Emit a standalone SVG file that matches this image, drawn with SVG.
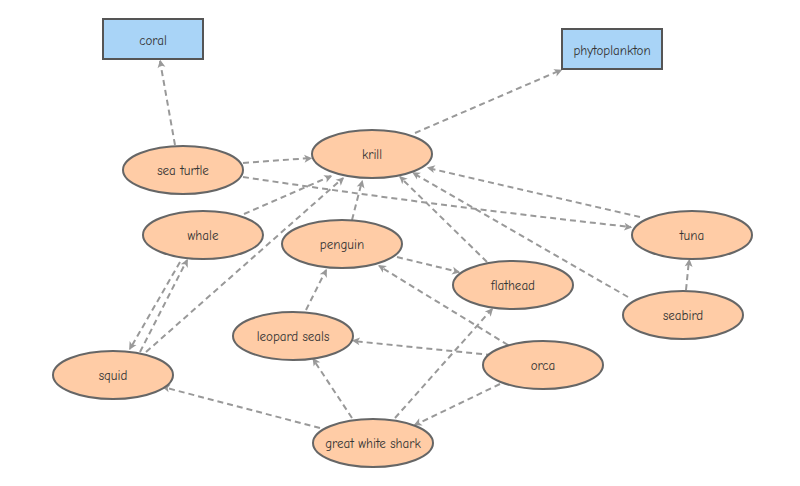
<svg xmlns="http://www.w3.org/2000/svg" width="800" height="486" viewBox="0 0 800 486">
<style>
.n{fill:#ffcca6;stroke:#666;stroke-width:2}
.r{fill:#a9d4f7;stroke:#555;stroke-width:2}
.t{font-family:"Comic Neue","DejaVu Sans",sans-serif;font-size:13px;fill:#333;text-anchor:middle;dominant-baseline:central}
.e{stroke:#999;stroke-width:2;stroke-dasharray:6,4;fill:none;marker-end:url(#a)}
</style>
<defs><marker id="a" viewBox="0 0 10 10" refX="9" refY="5" markerWidth="6" markerHeight="6" orient="auto" markerUnits="userSpaceOnUse" overflow="visible"><path d="M-2,-1 L10,5 L-2,11 L1,5 z" fill="#999" transform="scale(1.1)"/></marker></defs>
<rect width="800" height="486" fill="#fff"/>
<g id="connectors">
<line class="e" x1="175" y1="145" x2="160" y2="61"/>
<line class="e" x1="243" y1="163" x2="311" y2="158"/>
<path class="e" d="M243,177 Q430,205 631,227"/>
<line class="e" x1="415" y1="133" x2="561" y2="70"/>
<line class="e" x1="244" y1="214" x2="331" y2="176"/>
<line class="e" x1="140" y1="352" x2="187" y2="260"/>
<line class="e" x1="180" y1="262" x2="130" y2="349"/>
<line class="e" x1="146" y1="352" x2="343" y2="178"/>
<line class="e" x1="352" y1="220" x2="362" y2="181"/>
<line class="e" x1="397" y1="257" x2="459" y2="272"/>
<line class="e" x1="487" y1="262" x2="400" y2="177"/>
<line class="e" x1="640" y1="217" x2="428" y2="168"/>
<line class="e" x1="628" y1="297" x2="413" y2="173"/>
<line class="e" x1="686" y1="290" x2="689" y2="260"/>
<line class="e" x1="306" y1="310" x2="326" y2="270"/>
<line class="e" x1="492" y1="355" x2="353" y2="341"/>
<line class="e" x1="508" y1="345" x2="379" y2="266"/>
<line class="e" x1="500" y1="384" x2="415" y2="425"/>
<line class="e" x1="320" y1="428" x2="163" y2="387"/>
<line class="e" x1="352" y1="418" x2="313" y2="359"/>
<line class="e" x1="395" y1="418" x2="492" y2="309"/>
</g>
<g id="coral"><rect class="r" x="103" y="19" width="100" height="40"/><text class="t" x="153" y="40">coral</text></g>
<g id="phytoplankton"><rect class="r" x="562" y="29" width="100" height="40"/><text class="t" x="612" y="50">phytoplankton</text></g>
<g id="krill"><ellipse class="n" cx="372" cy="154" rx="60" ry="24"/><text class="t" x="372" y="154">krill</text></g>
<g id="sea_turtle"><ellipse class="n" cx="183" cy="170" rx="60" ry="24"/><text class="t" x="183" y="170">sea turtle</text></g>
<g id="whale"><ellipse class="n" cx="203" cy="235" rx="60" ry="24"/><text class="t" x="203" y="235">whale</text></g>
<g id="penguin"><ellipse class="n" cx="342" cy="244" rx="60" ry="24"/><text class="t" x="342" y="244">penguin</text></g>
<g id="tuna"><ellipse class="n" cx="692" cy="235" rx="60" ry="24"/><text class="t" x="692" y="235">tuna</text></g>
<g id="flathead"><ellipse class="n" cx="513" cy="285" rx="60" ry="24"/><text class="t" x="513" y="285">flathead</text></g>
<g id="seabird"><ellipse class="n" cx="683" cy="315" rx="60" ry="24"/><text class="t" x="683" y="315">seabird</text></g>
<g id="leopard_seals"><ellipse class="n" cx="293" cy="336" rx="60" ry="24"/><text class="t" x="293" y="336">leopard seals</text></g>
<g id="squid"><ellipse class="n" cx="113" cy="375" rx="60" ry="24"/><text class="t" x="113" y="375">squid</text></g>
<g id="orca"><ellipse class="n" cx="543" cy="365" rx="60" ry="24"/><text class="t" x="543" y="365">orca</text></g>
<g id="great_white_shark"><ellipse class="n" cx="373" cy="443" rx="60" ry="24"/><text class="t" x="373" y="443">great white shark</text></g>
</svg>
